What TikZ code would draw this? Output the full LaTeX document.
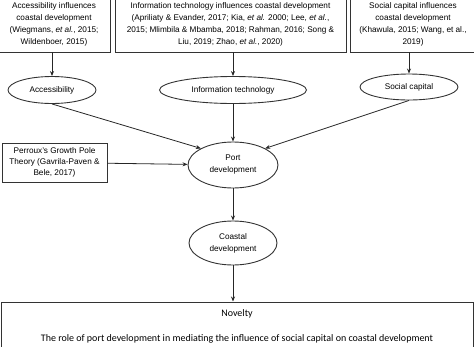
\documentclass[tikz,border=0pt]{standalone}
\usepackage{fontspec}
\setmainfont{Liberation Sans}
\newfontfamily\novfont{Carlito}
\usetikzlibrary{shapes.geometric, positioning, arrows.meta}

\tikzset{
  srcbox/.style={draw=black!80, line width=0.9pt, align=center, inner sep=2pt,
    font=\fontsize{8.2}{12}\selectfont},
  factor/.style={draw=black!80, ellipse, line width=0.9pt, align=center, inner sep=1pt,
    font=\fontsize{8.2}{12}\selectfont},
  link/.style={->, draw=black!85, line width=0.8pt}
}

\begin{document}
\begin{tikzpicture}[x=1pt, y=-1pt, >={Stealth[length=5pt,width=4pt]}]

    \useasboundingbox (0,0) rectangle (474,346);

    % literature boxes on top
    \node[srcbox, minimum width=112pt, minimum height=56pt] (acclit) at (54,24)
        {Accessibility influences\\coastal development\\(Wiegmans, \textit{et al.}, 2015;\\Wildenboer, 2015)};
    \node[srcbox, minimum width=231pt, minimum height=56pt] (itlit) at (230.5,24)
        {Information technology influences coastal development\\(Apriliaty \& Evander, 2017; Kia, \textit{et al.} 2000; Lee, \textit{et al.},\\2015; Mlimbila \& Mbamba, 2018; Rahman, 2016; Song \&\\Liu, 2019; Zhao, \textit{et al.}, 2020)};
    \node[srcbox, minimum width=126pt, minimum height=56pt] (soclit) at (413,24)
        {Social capital influences\\coastal development\\(Khawula, 2015; Wang, et al.,\\2019)};

    % variables
    \node[factor, minimum width=88pt, minimum height=27pt] (acc) at (52,90) {Accessibility};
    \node[factor, minimum width=147pt, minimum height=27pt] (it) at (233,90) {Information technology};
    \node[factor, minimum width=98pt, minimum height=26pt] (soc) at (409,87) {Social capital};

    \node[srcbox, minimum width=105pt, minimum height=39pt, inner sep=1pt,
          font=\fontsize{8.2}{11}\selectfont] (theory) at (54.5,162.5)
        {Perroux's Growth Pole\\Theory (Gavrila-Paven \&\\Bele, 2017)};

    \node[factor, minimum width=90pt, minimum height=46pt] (port) at (233,165) {Port\\development};
    \node[factor, minimum width=88pt, minimum height=44pt] (coast) at (233,243) {Coastal\\development};

    \node[srcbox, line width=1pt, minimum width=472pt, minimum height=48pt,
          inner sep=1pt, font=\novfont\fontsize{10}{12}\selectfont] (novel) at (237,326)
        {Novelty\\[13pt]The role of port development in mediating the influence of social capital on coastal development};

    \draw[link] (acclit.south -| acc) -- (acc);
    \draw[link] (itlit.south -| it) -- (it);
    \draw[link] (soclit.south -| soc) -- (soc);

    \draw[link] (acc.south) -- (port.north west);
    \draw[link] (it) -- (port);
    \draw[link] (soc.south) -- (port.north east);
    \draw[link] (theory) -- (port);

    \draw[link] (port) -- (coast);
    \draw[link] (coast) -- (novel.north -| coast);

\end{tikzpicture}
\end{document}
